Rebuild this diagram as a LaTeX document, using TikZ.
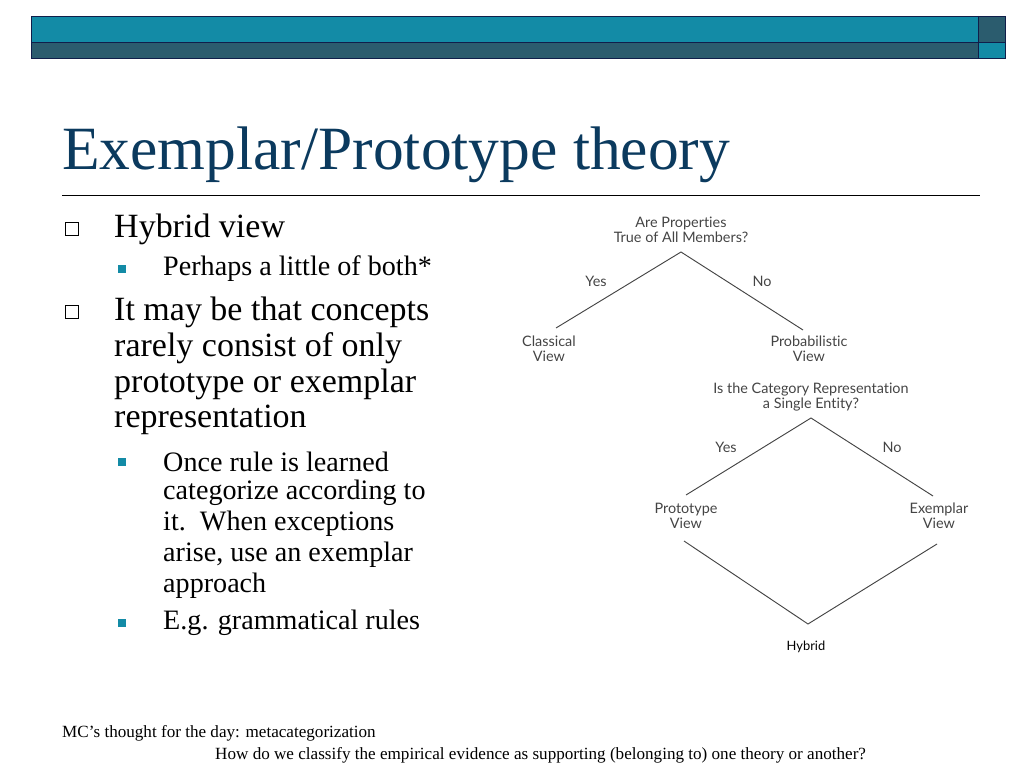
\documentclass[tikz,border=0pt]{standalone}
\usepackage{fontspec}
\setmainfont{Liberation Serif}
\newfontfamily\diagfont[Ligatures={NoCommon}]{Lato}
\usetikzlibrary{positioning}
\definecolor{barteal}{HTML}{138BA6}
\definecolor{bardark}{HTML}{2B5C6E}
\definecolor{barline}{HTML}{101E4A}
\definecolor{titlenavy}{HTML}{0B3A5E}
\definecolor{diaggray}{HTML}{444444}
\tikzset{
  bodytext/.style={anchor=west, inner sep=0pt, font=\fontsize{29}{32}\selectfont},
  subtext/.style={anchor=west, inner sep=0pt, font=\fontsize{24}{27}\selectfont},
  hollowbullet/.style={draw=black, line width=0.8pt, minimum size=0.38cm, inner sep=0pt},
  fullbullet/.style={fill=barteal, minimum size=0.26cm, inner sep=0pt},
  diagtext/.style={font=\diagfont\fontsize{12.3}{13}\selectfont, text=diaggray, align=center, inner sep=0pt},
  branch/.style={draw=diaggray, line width=0.8pt},
}
\begin{document}
\begin{tikzpicture}[x=0.03cm, y=-0.03cm]
\useasboundingbox (0,0) rectangle (1024,768);
%%% header bar %%%
\fill[barteal] (31,16) rectangle (978,42);
\fill[bardark] (31,42) rectangle (978,58);
\fill[bardark] (978,16) rectangle (1005,42);
\fill[barteal] (978,42) rectangle (1005,58);
\draw[barline, line width=0.8pt] (31,16) rectangle (1005,58);
\draw[barline, line width=0.8pt] (31,42) -- (1005,42);
\draw[barline, line width=0.8pt] (978,16) -- (978,58);
%%% title %%%
\node[anchor=base west, inner sep=0pt, text=titlenavy, font=\fontsize{52.5}{56}\selectfont] (title) at (62,170) {Exemplar/Prototype theory};
\draw[black, line width=0.8pt] (62,195) -- (980,195);
%%% bullets %%%
\node[hollowbullet] (b1) at (72,229) {};
\node[bodytext] (hybrid) at (114,229) {Hybrid view};
\node[fullbullet] (s1) at (122,269) {};
\node[subtext] (both) at (163,269) {Perhaps a little of both*};
\node[hollowbullet] (b2) at (72,312) {};
\node[bodytext] (l1) at (114,312) {It may be that concepts};
\node[bodytext] (l2) at (114,348) {rarely consist of only};
\node[bodytext] (l3) at (114,384) {prototype or exemplar};
\node[bodytext] (l4) at (114,420) {representation};
\node[fullbullet] (s2) at (122,462) {};
\node[subtext] (o1) at (163,462) {Once rule is learned};
\node[subtext] (o2) at (163,493) {categorize according to};
\node[subtext] (o3) at (163,524) {it.\ \ When exceptions};
\node[subtext] (o4) at (163,555) {arise, use an exemplar};
\node[subtext] (o5) at (163,586) {approach};
\node[fullbullet] (s3) at (122,623) {};
\node[subtext] (eg) at (163,623) {E.g. grammatical rules};
%%% decision tree %%%
\node[diagtext] (props) at (681,230) {Are Properties\\True of All Members?};
\coordinate (top1) at (681,252);
\coordinate (clend) at (556,328);
\coordinate (prend) at (803,330);
\node[diagtext] (yes1) at (596,281) {Yes};
\node[diagtext] (no1) at (762,281) {No};
\node[diagtext] (classical) at (549,349) {Classical\\View};
\node[diagtext] (prob) at (809,349) {Probabilistic\\View};
\draw[branch] (clend) -- (top1) -- (prend);
\node[diagtext] (single) at (811,397) {Is the Category Representation\\a Single Entity?};
\coordinate (top2) at (811,418);
\coordinate (ptend) at (686,495);
\coordinate (exend) at (933,496);
\node[diagtext] (yes2) at (726,447) {Yes};
\node[diagtext] (no2) at (892,447) {No};
\node[diagtext] (proto) at (686,516) {Prototype\\View};
\node[diagtext] (exemp) at (939,516) {Exemplar\\View};
\draw[branch] (ptend) -- (top2) -- (exend);
\coordinate (ptlow) at (684,541);
\coordinate (exlow) at (937,544);
\coordinate (bottom) at (808,624);
\draw[branch] (ptlow) -- (bottom) -- (exlow);
\node[diagtext, text=black, font=\diagfont\fontsize{11}{12}\selectfont] (hybridleaf) at (806,647) {Hybrid};
%%% footer %%%
\node[anchor=west, inner sep=0pt, font=\fontsize{14.6}{16}\selectfont] (foot1) at (62,733) {MC’s thought for the day: metacategorization};
\node[anchor=west, inner sep=0pt, font=\fontsize{14.6}{16}\selectfont] (foot2) at (215,755) {How do we classify the empirical evidence as supporting (belonging to) one theory or another?};
\end{tikzpicture}
\end{document}
